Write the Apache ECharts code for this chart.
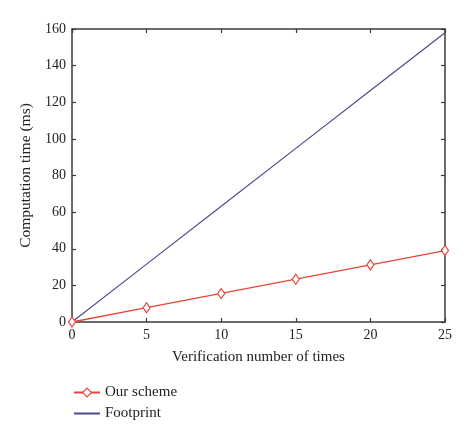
<!DOCTYPE html>
<html>
<head>
<meta charset="utf-8">
<script src="https://cdn.jsdelivr.net/npm/echarts@6/dist/echarts.min.js"></script>
<style>
html,body{margin:0;padding:0;background:#fff;}
#chart{width:474px;height:441px;}
</style>
</head>
<body>
<div id="chart"></div>
<script>
var xValues = [0, 5, 10, 15, 20, 25];
var ourScheme = [0, 7.8, 15.6, 23.4, 31.2, 39];
var footprint = [0, 31.6, 63.2, 94.8, 126.4, 158];
var seriesNames = ['Our scheme', 'Footprint'];

var FONT = '"Liberation Serif", "DejaVu Serif", serif';
var AXIS_COLOR = '#3a3a3a';
var RED = '#e8443a';
var BLUE = '#4b4b8e';
var chart = echarts.init(document.getElementById('chart'));

function pairs(vals) {
  return xValues.map(function (x, i) { return [x, vals[i]]; });
}

var baseAxisLine = { show: true, onZero: false, lineStyle: { color: AXIS_COLOR, width: 1.5 } };
var baseTick = { show: true, inside: true, length: 4, lineStyle: { color: AXIS_COLOR, width: 1.2 } };

chart.setOption({
  animation: false,
  backgroundColor: '#fff',
  grid: { left: 72, right: 29, top: 29, bottom: 119, containLabel: false },
  legend: {
    orient: 'vertical',
    left: 73,
    top: 385,
    padding: 0,
    itemWidth: 26,
    itemHeight: 11,
    itemGap: 6,
    textStyle: { fontFamily: FONT, fontSize: 15, color: '#222' },
    data: [
      { name: seriesNames[0], itemStyle: { color: '#fff', borderColor: RED, borderWidth: 1.2 } },
      { name: seriesNames[1], itemStyle: { opacity: 0 } }
    ]
  },
  xAxis: [{
    type: 'value',
    min: 0, max: 25, interval: 5,
    position: 'bottom',
    name: 'Verification number of times',
    nameLocation: 'middle',
    nameGap: 28,
    nameTextStyle: { fontFamily: FONT, fontSize: 15, color: '#222' },
    axisLine: baseAxisLine,
    axisTick: baseTick,
    axisLabel: { fontFamily: FONT, fontSize: 14, color: '#222', margin: 6 },
    splitLine: { show: false }
  }, {
    type: 'value',
    min: 0, max: 25, interval: 5,
    position: 'top',
    axisLine: baseAxisLine,
    axisTick: baseTick,
    axisLabel: { show: false },
    splitLine: { show: false }
  }],
  yAxis: [{
    type: 'value',
    min: 0, max: 160, interval: 20,
    position: 'left',
    name: 'Computation time (ms)',
    nameLocation: 'middle',
    nameGap: 32,
    nameTextStyle: { fontFamily: FONT, fontSize: 15.5, color: '#222' },
    axisLine: baseAxisLine,
    axisTick: baseTick,
    axisLabel: { fontFamily: FONT, fontSize: 14, color: '#222', margin: 6 },
    splitLine: { show: false }
  }, {
    type: 'value',
    min: 0, max: 160, interval: 20,
    position: 'right',
    axisLine: baseAxisLine,
    axisTick: baseTick,
    axisLabel: { show: false },
    splitLine: { show: false }
  }],
  series: [{
    name: seriesNames[0],
    type: 'line',
    data: pairs(ourScheme),
    symbol: 'diamond',
    symbolSize: [7, 10],
    showAllSymbol: true,
    lineStyle: { color: RED, width: 1.3 },
    itemStyle: { color: '#fff', borderColor: RED, borderWidth: 1.2 },
    z: 3
  }, {
    name: seriesNames[1],
    type: 'line',
    data: pairs(footprint),
    symbol: 'none',
    lineStyle: { color: BLUE, width: 1.2 },
    itemStyle: { color: BLUE },
    z: 2
  }]
});
</script>
</body>
</html>
